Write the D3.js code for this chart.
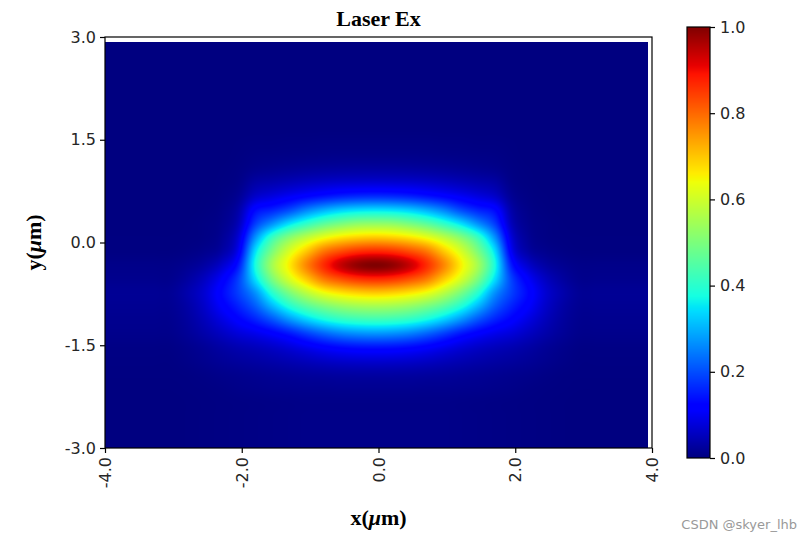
<!DOCTYPE html>
<html>
<head>
<meta charset="utf-8">
<script src="https://cdn.jsdelivr.net/npm/d3@7"></script>
<style>
  body { margin: 0; background: #fff; }
  svg { display: block; }
</style>
</head>
<body>
<div id="chart"></div>
<script>
// axis ticks
var xTicks = [-4, -2, 0, 2, 4];
var yTicks = [-3, -1.5, 0, 1.5, 3];
var cbTicks = [0, 0.2, 0.4, 0.6, 0.8, 1.0];

// field samples: columns x = -3.05 .. 2.95 (step 0.25),
// rows y = 1.67 .. -2.33 (step -0.2); zero outside
var gridX0 = -3.05, gridDx = 0.25;
var gridY0 = 1.67, gridDy = -0.2;
var fieldRows = [
  [0,0,0,0,0,0,0,0,0,0,0,0,0,0,0,0,0,0,0,0,0,0,0,0,0],
  [0,0,0,0,.001,.002,.002,.003,.003,.004,.004,.004,.004,.004,.004,.004,.003,.003,.002,.002,.001,0,0,0,0],
  [0,0,0,0,.002,.005,.006,.007,.008,.009,.01,.01,.01,.01,.01,.009,.008,.007,.006,.005,.002,0,0,0,0],
  [0,0,0,.001,.004,.012,.016,.02,.024,.027,.029,.03,.03,.03,.029,.027,.024,.02,.016,.012,.004,.001,0,0,0],
  [0,0,0,.002,.008,.033,.042,.051,.06,.067,.072,.074,.075,.074,.072,.067,.06,.051,.042,.033,.008,.002,0,0,0],
  [0,0,.001,.004,.018,.065,.085,.105,.125,.143,.158,.167,.17,.167,.158,.143,.125,.105,.085,.065,.018,.004,.001,0,0],
  [0,0,.002,.008,.035,.13,.16,.20,.255,.298,.329,.345,.35,.345,.329,.298,.255,.20,.16,.13,.035,.008,.002,0,0],
  [0,.001,.004,.012,.05,.185,.27,.35,.412,.464,.50,.525,.53,.525,.50,.464,.412,.35,.27,.185,.05,.012,.004,.001,0],
  [.001,.002,.005,.018,.075,.27,.42,.515,.582,.636,.672,.692,.70,.692,.672,.636,.582,.515,.42,.27,.075,.018,.005,.002,.001],
  [.002,.005,.012,.03,.10,.345,.50,.612,.70,.785,.83,.86,.87,.86,.83,.785,.70,.612,.50,.345,.10,.03,.012,.005,.002],
  [.008,.015,.03,.065,.145,.38,.55,.66,.77,.865,.94,.985,1.0,.985,.94,.865,.77,.66,.55,.38,.145,.065,.03,.015,.008],
  [.012,.027,.055,.105,.185,.345,.50,.612,.70,.785,.83,.86,.87,.86,.83,.785,.70,.612,.50,.345,.185,.105,.055,.027,.012],
  [.018,.038,.07,.125,.185,.27,.40,.50,.578,.638,.672,.692,.70,.692,.672,.638,.578,.50,.40,.27,.185,.125,.07,.038,.018],
  [.016,.032,.063,.11,.155,.215,.305,.39,.453,.497,.528,.545,.55,.545,.528,.497,.453,.39,.305,.215,.155,.11,.063,.032,.016],
  [.013,.026,.05,.083,.118,.155,.205,.268,.325,.37,.40,.415,.42,.415,.40,.37,.325,.268,.205,.155,.118,.083,.05,.026,.013],
  [.01,.02,.036,.056,.077,.093,.115,.145,.185,.222,.25,.265,.27,.265,.25,.222,.185,.145,.115,.093,.077,.056,.036,.02,.01],
  [.005,.011,.02,.032,.043,.052,.063,.078,.097,.116,.13,.138,.14,.138,.13,.116,.097,.078,.063,.052,.043,.032,.02,.011,.005],
  [.003,.007,.013,.02,.026,.031,.037,.044,.052,.06,.066,.069,.07,.069,.066,.06,.052,.044,.037,.031,.026,.02,.013,.007,.003],
  [.002,.003,.006,.01,.013,.016,.019,.022,.025,.027,.029,.03,.03,.03,.029,.027,.025,.022,.019,.016,.013,.01,.006,.003,.002],
  [.001,.002,.003,.005,.008,.01,.012,.013,.014,.014,.015,.015,.015,.015,.015,.014,.014,.013,.012,.01,.008,.005,.003,.002,.001],
  [0,.001,.002,.003,.004,.005,.006,.007,.008,.008,.008,.008,.008,.008,.008,.008,.008,.007,.006,.005,.004,.003,.002,.001,0]
];
// extent of the image inside the axes (data units)
var imgX = [-4, 3.94], imgY = [-3, 2.93];

var W = 811, H = 541;
var margin = {left: 105, right: 159, top: 37, bottom: 93};

var svg = d3.select("#chart").append("svg")
  .attr("width", W)
  .attr("height", H);

var xScale = d3.scaleLinear().domain([-4, 4]).range([margin.left, W - margin.right]);
var yScale = d3.scaleLinear().domain([-3, 3]).range([H - margin.bottom, margin.top]);

// jet colormap
var jetR = d3.scaleLinear().domain([0, 0.35, 0.66, 0.89, 1]).range([0, 0, 1, 1, 0.5]).clamp(true);
var jetG = d3.scaleLinear().domain([0, 0.125, 0.375, 0.64, 0.91, 1]).range([0, 0, 1, 1, 0, 0]).clamp(true);
var jetB = d3.scaleLinear().domain([0, 0.11, 0.34, 0.65, 1]).range([0.5, 1, 1, 0, 0]).clamp(true);

function cell(i, j) {
  var r = Math.max(0, Math.min(fieldRows.length - 1, i));
  var c = Math.max(0, Math.min(fieldRows[0].length - 1, j));
  return fieldRows[r][c];
}
function cr(p0, p1, p2, p3, t) {
  return p1 + 0.5 * t * (p2 - p0 + t * (2*p0 - 5*p1 + 4*p2 - p3 + t * (3*(p1 - p2) + p3 - p0)));
}
// smooth (bicubic) lookup, like imshow interpolation
function sample(x, y) {
  var gx = (x - gridX0) / gridDx, gy = (y - gridY0) / gridDy;
  var j = Math.floor(gx), i = Math.floor(gy);
  var tx = gx - j, ty = gy - i;
  var rows = [];
  for (var k = -1; k <= 2; k++) {
    rows.push(cr(cell(i+k, j-1), cell(i+k, j), cell(i+k, j+1), cell(i+k, j+2), tx));
  }
  var v = cr(rows[0], rows[1], rows[2], rows[3], ty);
  return Math.max(0, Math.min(1, v));
}

// heatmap image
var px0 = Math.round(xScale(imgX[0])), px1 = Math.round(xScale(imgX[1]));
var py0 = Math.round(yScale(imgY[1])), py1 = Math.round(yScale(imgY[0]));
var iw = px1 - px0, ih = py1 - py0;
var canvas = document.createElement("canvas");
canvas.width = iw; canvas.height = ih;
var ctx = canvas.getContext("2d");
var img = ctx.createImageData(iw, ih);
for (var py = 0; py < ih; py++) {
  var yv = yScale.invert(py0 + py + 0.5);
  for (var px = 0; px < iw; px++) {
    var xv = xScale.invert(px0 + px + 0.5);
    var v = sample(xv, yv);
    var o = (py * iw + px) * 4;
    img.data[o] = Math.round(jetR(v) * 255);
    img.data[o+1] = Math.round(jetG(v) * 255);
    img.data[o+2] = Math.round(jetB(v) * 255);
    img.data[o+3] = 255;
  }
}
ctx.putImageData(img, 0, 0);
svg.append("image")
  .attr("x", px0).attr("y", py0)
  .attr("width", iw).attr("height", ih)
  .attr("preserveAspectRatio", "none")
  .attr("href", canvas.toDataURL());

// frame
svg.append("rect")
  .attr("x", xScale(-4)).attr("y", yScale(3))
  .attr("width", xScale(4) - xScale(-4))
  .attr("height", yScale(-3) - yScale(3))
  .attr("fill", "none")
  .attr("stroke", "#000")
  .attr("stroke-width", 1.2);

var fmt = function(d) { return d.toFixed(1); };

var yAxis = svg.append("g")
  .attr("transform", "translate(" + xScale(-4) + ",0)")
  .call(d3.axisLeft(yScale).tickValues(yTicks).tickFormat(fmt).tickSize(5).tickPadding(4));
yAxis.select(".domain").remove();

var xAxis = svg.append("g")
  .attr("transform", "translate(0," + yScale(-3) + ")")
  .call(d3.axisBottom(xScale).tickValues(xTicks).tickFormat(fmt).tickSize(5));
xAxis.select(".domain").remove();
xAxis.selectAll("text")
  .attr("transform", "rotate(-90)")
  .attr("text-anchor", "end")
  .attr("x", -9)
  .attr("y", 0)
  .attr("dy", "0.35em");

svg.selectAll(".tick text")
  .attr("font-family", "DejaVu Sans")
  .attr("font-size", 16)
  .attr("fill", "#262626");
svg.selectAll(".tick line").attr("stroke", "#000").attr("stroke-width", 1.2);

// title and axis labels
svg.append("text")
  .attr("x", (xScale(-4) + xScale(4)) / 2)
  .attr("y", 26)
  .attr("text-anchor", "middle")
  .attr("font-family", "Liberation Serif")
  .attr("font-weight", "bold")
  .attr("font-size", 22)
  .text("Laser Ex");

var xl = svg.append("text")
  .attr("x", (xScale(-4) + xScale(4)) / 2)
  .attr("y", 525)
  .attr("text-anchor", "middle")
  .attr("font-family", "Liberation Serif")
  .attr("font-weight", "bold")
  .attr("font-size", 22);
xl.append("tspan").text("x(");
xl.append("tspan").attr("font-style", "italic").text("\u03bc");
xl.append("tspan").text("m)");

var yl = svg.append("text")
  .attr("transform", "translate(41," + yScale(0) + ") rotate(-90)")
  .attr("text-anchor", "middle")
  .attr("font-family", "Liberation Serif")
  .attr("font-weight", "bold")
  .attr("font-size", 22);
yl.append("tspan").text("y(");
yl.append("tspan").attr("font-style", "italic").text("\u03bc");
yl.append("tspan").text("m)");

// colorbar
var cb = {x: 687, w: 23, top: 27, bottom: 458};
var cScale = d3.scaleLinear().domain([0, 1]).range([cb.bottom, cb.top]);
var cbh = cb.bottom - cb.top;
var cbCanvas = document.createElement("canvas");
cbCanvas.width = 1; cbCanvas.height = cbh;
var cctx = cbCanvas.getContext("2d");
var cimg = cctx.createImageData(1, cbh);
for (var r = 0; r < cbh; r++) {
  var t = cScale.invert(cb.top + r + 0.5);
  cimg.data[r*4] = Math.round(jetR(t) * 255);
  cimg.data[r*4+1] = Math.round(jetG(t) * 255);
  cimg.data[r*4+2] = Math.round(jetB(t) * 255);
  cimg.data[r*4+3] = 255;
}
cctx.putImageData(cimg, 0, 0);
svg.append("image")
  .attr("x", cb.x).attr("y", cb.top)
  .attr("width", cb.w).attr("height", cbh)
  .attr("preserveAspectRatio", "none")
  .attr("href", cbCanvas.toDataURL());
svg.append("rect")
  .attr("x", cb.x).attr("y", cb.top)
  .attr("width", cb.w).attr("height", cbh)
  .attr("fill", "none")
  .attr("stroke", "#000")
  .attr("stroke-width", 1.2);
var cAxis = svg.append("g")
  .attr("transform", "translate(" + (cb.x + cb.w) + ",0)")
  .call(d3.axisRight(cScale).tickValues(cbTicks).tickFormat(fmt).tickSize(5).tickPadding(5));
cAxis.select(".domain").remove();
cAxis.selectAll("text")
  .attr("font-family", "DejaVu Sans")
  .attr("font-size", 16)
  .attr("fill", "#262626");
cAxis.selectAll("line").attr("stroke", "#000").attr("stroke-width", 1.2);

// watermark
svg.append("text")
  .attr("x", 797)
  .attr("y", 529)
  .attr("text-anchor", "end")
  .attr("font-family", "DejaVu Sans")
  .attr("font-size", 13)
  .attr("fill", "#999")
  .text("CSDN @skyer_lhb");
</script>
</body>
</html>
